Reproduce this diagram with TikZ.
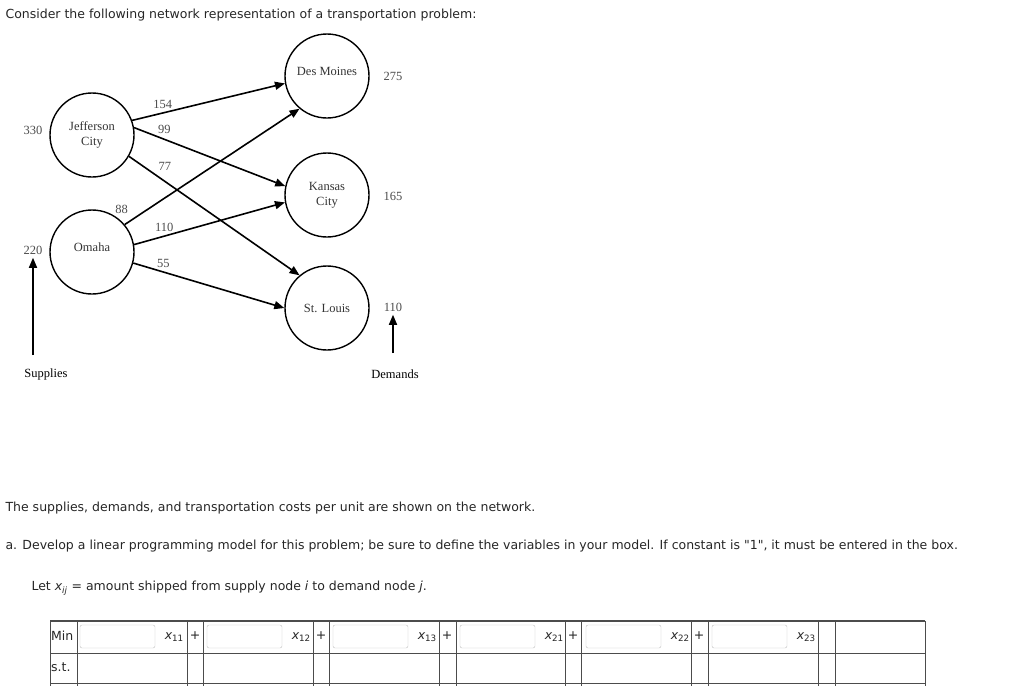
\documentclass[tikz,border=0pt]{standalone}
\usepackage{fontspec}
\setmainfont{Liberation Serif}
\newfontfamily\uifont{DejaVu Sans}
\usetikzlibrary{arrows.meta, positioning}
\tikzstyle{arrow} = [-{Triangle[length=10pt,width=8pt]}, line width=1.6pt]
\tikzstyle{city} = [circle, draw, line width=1.4pt, minimum size=84pt, align=center, font=\fontsize{12.5}{15}\selectfont, text=black!80]
\tikzstyle{num} = [font=\fontsize{12.5}{15}\selectfont, text=black!70]
\tikzstyle{ui} = [font=\uifont\fontsize{12.5}{15}\selectfont, anchor=west, text=black!85]
\newcommand{\xv}[1]{{\itshape x}\textsubscript{#1}}

\begin{document}
\begin{tikzpicture}[x=1pt, y=-1pt]
    \useasboundingbox (0,0) rectangle (1024,686);
    \node[ui] (intro) at (2,15) {Consider the following network representation of a transportation problem:};

    % Supply nodes
    \node[city] (jc) at (92,135) {Jefferson\\City};
    \node[city] (om) at (92,252) {Omaha\\[-6pt]\mbox{}};
    % Demand nodes
    \node[city] (dm) at (327,76) {Des Moines\\[-6pt]\mbox{}};
    \node[city] (kc) at (327,195) {Kansas\\City};
    \node[city] (sl) at (327,308) {St. Louis};

    \node[num] (s1) at (33,130) {330};
    \node[num] (s2) at (33,250) {220};
    \node[num] (d1) at (393,76) {275};
    \node[num] (d2) at (393,196) {165};
    \node[num] (d3) at (393,307) {110};

    % Routes
    \draw[arrow] (jc.20) -- (dm.190) node[num, pos=0.2, above] {154};
    \draw[arrow] (jc.10) -- (kc.168) node[num, pos=0.2, above=2pt] {99};
    \draw[arrow] (jc.-30) -- (sl.130) node[num, pos=0.15, above right] {77};
    \draw[arrow] (om.40) -- (dm.-130) node[num, pos=0.05, above left=2pt] {88};
    \draw[arrow] (om.10) -- (kc.190) node[num, pos=0.2, above] {110};
    \draw[arrow] (om.-15) -- (sl.180) node[num, pos=0.2, above] {55};

    % Supplies / demands
    \node[num, text=black] (sup) at (46,374) {Supplies};
    \node[num, text=black] (dem) at (395,374) {Demands};
    \coordinate (supbase) at (33,355);
    \coordinate (dembase) at (393,353);
    \draw[arrow] (supbase) -- (s2.south);
    \draw[arrow] (dembase) -- (d3.south);

    \node[ui] (t1) at (2,508) {The supplies, demands, and transportation costs per unit are shown on the network.};
    \node[ui] (t2) at (2,546) {a. Develop a linear programming model for this problem; be sure to define the variables in your model. If constant is "1", it must be entered in the box.};
    \node[ui] (t3) at (28,588) {Let \xv{\itshape ij} = amount shipped from supply node \textit{i} to demand node \textit{j}.};

    % Table
    \draw[black!70, line width=1.2pt] (50,621) -- (925,621);
    \foreach \y in {653,683} {
        \draw[black!70, line width=1pt] (50,\y) -- (925,\y);
    }
    \foreach \x in {50,77,187,203,313,329,439,456,565,581,691,708,818,835,925} {
        \draw[black!70, line width=0.8pt] (\x,621) -- (\x,686);
    }
    \foreach \x/\lab in {80/11,207/12,333/13,460/21,586/22,712/23} {
        \draw[black!25, rounded corners=2pt] (\x,625) rectangle ++(75,23);
        \node[ui, anchor=east, inner sep=1pt] (v\lab) at (\x+105,637) {\xv{\lab}};
    }
    \foreach \x in {195,321,447,573,699} {
        \node[ui, anchor=center] at (\x,636) {+};
    }
    \node[ui, inner sep=1pt] (min) at (50,636) {Min};
    \node[ui, inner sep=1pt] (st) at (50,667) {s.t.};
\end{tikzpicture}
\end{document}
